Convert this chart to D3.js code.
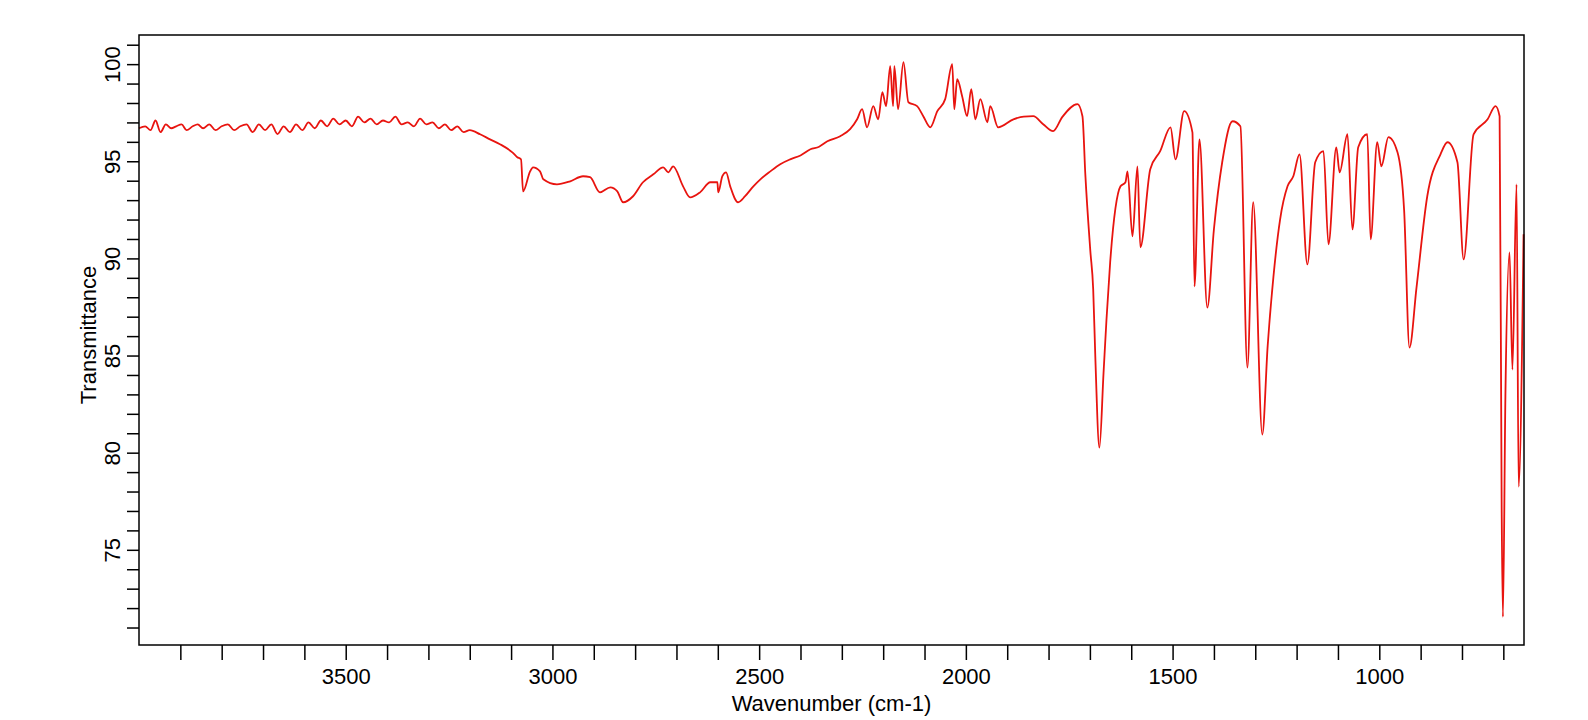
<!DOCTYPE html>
<html><head><meta charset="utf-8">
<script src="https://cdn.jsdelivr.net/npm/d3@7/dist/d3.min.js"></script>
<style>body{margin:0;background:#fff;font-family:Arial,"Liberation Sans",sans-serif}</style>
</head><body><svg id="c" width="1588" height="720"></svg>
<script>
const wavenumbers = [4000,3985,3972,3960,3948,3935,3922,3910,3897,3885,3870,3858,3845,3830,3815,3800,3785,3770,3755,3740,3725,3710,3695,3680,3665,3650,3635,3620,3605,3590,3575,3560,3545,3530,3515,3500,3485,3470,3455,3440,3425,3410,3395,3380,3365,3350,3335,3320,3305,3290,3275,3260,3245,3230,3215,3200,3175,3151,3127,3097,3085,3076,3071,3054,3047,3030,3022,2989,2957,2926,2909,2885,2860,2843,2829,2805,2781,2756,2732,2720,2708,2684,2667,2643,2618,2601,2599,2589,2580,2570,2551,2534,2514,2497,2473,2449,2425,2400,2376,2355,2335,2304,2280,2263,2251,2239,2224,2212,2202,2193,2183,2176,2173,2164,2151,2139,2118,2103,2086,2069,2050,2033,2028,2021,2009,1997,1987,1977,1965,1948,1941,1922,1885,1860,1837,1813,1789,1767,1730,1718,1711,1699,1692,1687,1677,1667,1660,1651,1626,1614,1609,1597,1585,1578,1554,1530,1505,1493,1472,1452,1447,1435,1416,1400,1380,1355,1336,1319,1305,1283,1270,1256,1240,1222,1208,1193,1174,1155,1135,1123,1104,1096,1077,1065,1051,1029,1021,1005,995,978,956,940,927,910,884,852,835,811,796,772,738,719,709,704,701,695,685,678,668,663,651];
const transmittance = [96.7,96.8,96.6,97.1,96.5,96.9,96.7,96.8,96.9,96.6,96.8,96.9,96.7,96.9,96.6,96.8,96.9,96.6,96.8,96.9,96.5,96.9,96.6,96.9,96.4,96.8,96.5,96.9,96.6,97.0,96.7,97.1,96.8,97.2,96.9,97.1,96.8,97.3,97.0,97.2,96.9,97.1,97.0,97.3,96.9,97.0,96.8,97.2,96.9,97.0,96.7,96.9,96.6,96.8,96.5,96.6,96.39,96.13,95.88,95.46,95.21,95.1,93.45,94.48,94.69,94.48,94.07,93.81,93.97,94.23,94.18,93.4,93.66,93.45,92.89,93.2,93.92,94.33,94.69,94.43,94.74,93.71,93.14,93.4,93.92,93.92,93.4,94.23,94.43,93.71,92.89,93.2,93.71,94.07,94.48,94.85,95.1,95.3,95.62,95.75,96.03,96.29,96.65,97.16,97.68,96.75,97.84,97.16,98.56,97.84,99.9,97.84,99.9,97.68,100.1,98.04,97.84,97.32,96.75,97.58,98.2,100.0,97.68,99.23,98.35,97.32,98.71,97.16,98.2,97.01,97.84,96.75,97.16,97.3,97.32,96.91,96.55,97.27,97.94,97.32,94.3,90.4,88.4,85.0,80.26,84.1,86.8,89.79,93.71,93.92,94.48,91.13,94.74,90.57,94.59,95.52,96.75,95.1,97.58,96.49,88.56,96.13,87.47,91.5,94.95,97.06,96.8,84.38,92.89,80.93,85.5,89.07,92.0,93.71,94.23,95.36,89.69,94.95,95.52,90.72,95.72,94.43,96.39,91.49,95.72,96.39,90.98,95.98,94.74,96.24,95.46,92.5,85.41,88.5,93.2,95.36,95.98,94.95,89.95,96.39,97.16,97.84,97.32,77.0,71.55,82.89,90.31,84.28,93.81,78.25,91.24];
const yTicks = [75,80,85,90,95,100];
const xTicks = [3500,3000,2500,2000,1500,1000];

const svg = d3.select('#c');
const L=139,R=1524,T=35,B=645;
const x = d3.scaleLinear().domain([4000,650]).range([L,R]);
const y = d3.scaleLinear().domain([70.1,101.5]).range([B,T]);
const data = wavenumbers.map((w,i)=>({w,t:transmittance[i]}));

svg.append('g').attr('transform',`translate(0,${B})`)
  .call(d3.axisBottom(x).tickValues(d3.range(3900,650,-100)).tickSize(15).tickFormat(d=>xTicks.includes(d)?d:''))
  .call(g=>{g.select('.domain').remove();g.selectAll('line').attr('stroke','#000').attr('stroke-width',1.5);
    g.selectAll('text').attr('font-size',22).attr('dy','0.95em').attr('font-family','Arial,"Liberation Sans",sans-serif');});
svg.append('g').attr('transform',`translate(${L},0)`)
  .call(d3.axisLeft(y).tickValues(d3.range(71,102,1)).tickSize(12).tickFormat(d=>yTicks.includes(d)?d:''))
  .call(g=>{g.select('.domain').remove();g.selectAll('line').attr('stroke','#000').attr('stroke-width',1.5);
    g.selectAll('text').attr('font-size',22).attr('font-family','Arial,"Liberation Sans",sans-serif')
      .attr('text-anchor','middle').attr('x',0).attr('dy',0)
      .attr('transform','translate(-25,0) rotate(-90)').attr('dominant-baseline','middle');});

svg.append('path').datum(data).attr('fill','none').attr('stroke','#e8140f').attr('stroke-width',1.8)
  .attr('stroke-linejoin','round')
  .attr('d',d3.line().curve(d3.curveMonotoneX).x(d=>x(d.w)).y(d=>y(d.t)));

svg.append('rect').attr('x',L).attr('y',T).attr('width',R-L).attr('height',B-T)
  .attr('fill','none').attr('stroke','#000').attr('stroke-width',1.5);

svg.append('text').attr('x',(L+R)/2).attr('y',711).attr('text-anchor','middle').attr('font-size',22).text('Wavenumber (cm-1)');
svg.append('text').attr('transform',`translate(96,${(T+B)/2-5}) rotate(-90)`).attr('text-anchor','middle').attr('font-size',22).text('Transmittance');
</script></body></html>
